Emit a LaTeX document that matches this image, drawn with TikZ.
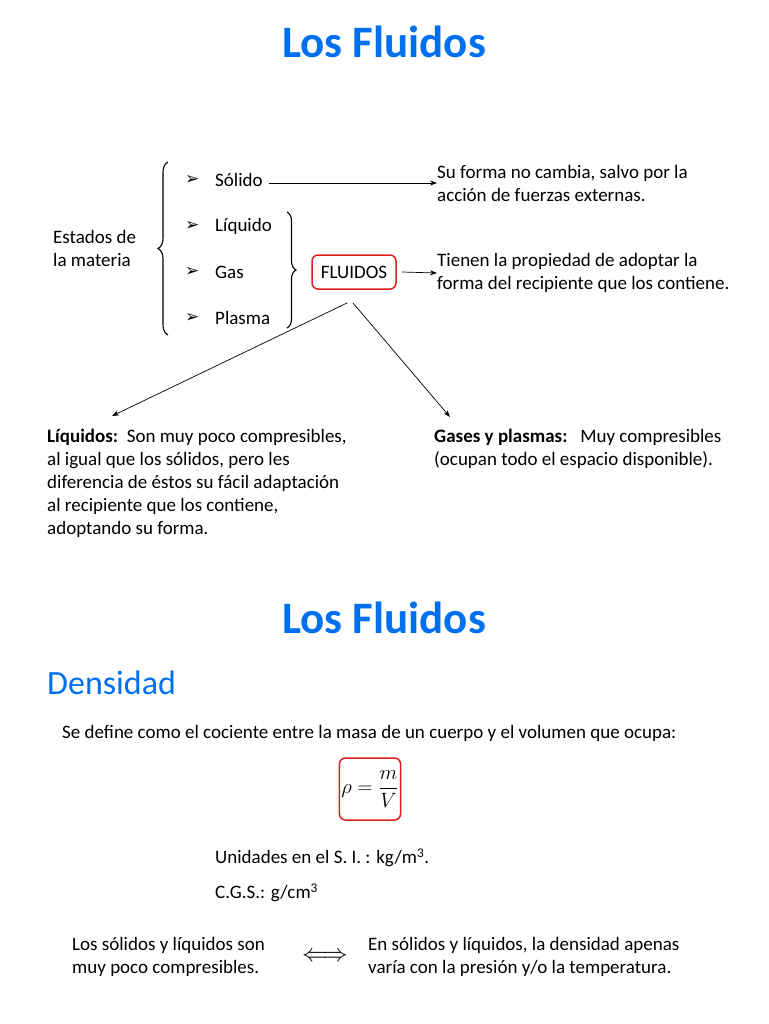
\documentclass[tikz,border=0pt]{standalone}
\usepackage{fontspec}
\setmainfont{Carlito}
\newfontfamily\dejavu{DejaVu Sans}
\usetikzlibrary{decorations.pathreplacing,arrows.meta}
\definecolor{tblue}{RGB}{0,112,240}
\definecolor{bred}{RGB}{220,30,30}
\begin{document}
\begin{tikzpicture}[x=1pt,y=-1pt,
  txt/.style={anchor=west,inner sep=0pt,font=\fontsize{19}{23}\selectfont,align=left},
  ttl/.style={font=\fontsize{45}{50}\selectfont\bfseries,text=tblue},
  redbox/.style={draw=bred,line width=1.5pt,rounded corners=6pt},
  arr/.style={-{Stealth[length=7pt,width=5pt]},line width=0.7pt},
  bul/.style={anchor=west,inner sep=0pt,font=\dejavu\fontsize{17}{17}\selectfont}]
\useasboundingbox (0,0) rectangle (768,1024);
\node[ttl] (t1) at (384,42) {Los Fluidos};
\node[txt] (est) at (53,248) {Estados de\\la materia};
\draw[line width=1.1pt,decorate,decoration={brace,amplitude=10pt}] (168,335) -- (168,162);
\draw[line width=1.1pt,decorate,decoration={brace,amplitude=9pt}] (287,212) -- (287,328);
\foreach \y/\t/\n in {180/Sólido/sol,226/Líquido/liq,272/Gas/gas,318/Plasma/pla}{
  \node[bul] (b\n) at (185,\y) {➢};
  \node[txt] (\n) at (215,\y) {\t};
}
\node[txt] (su) at (437,183) {Su forma no cambia, salvo por la\\acción de fuerzas externas.};
\coordinate (s1) at (269,183);
\draw[arr] (s1) -- (su.west);
\node[redbox,txt,anchor=center,inner sep=6pt,minimum width=84pt,minimum height=34pt] (flu) at (354,272) {FLUIDOS};
\node[txt] (tie) at (437,273) {Tienen la propiedad de adoptar la\\forma del recipiente que los contiene.};
\coordinate (f1) at (402,272);
\draw[arr] (f1) -- (tie.west);
\coordinate (fb1) at (347,303);
\coordinate (fb2) at (353,303);
\coordinate (liqT) at (112,416);
\coordinate (gasT) at (450,417);
\draw[arr] (fb1) -- (liqT);
\draw[arr] (fb2) -- (gasT);
\node[txt,anchor=north west] (lq) at (47,429) {\textbf{Líquidos:}\ \ Son muy poco compresibles,\\al igual que los sólidos, pero les\\diferencia de éstos su fácil adaptación\\al recipiente que los contiene,\\adoptando su forma.};
\node[txt,anchor=north west] (gp) at (434,429) {\textbf{Gases y plasmas:}\ \ \ Muy compresibles\\(ocupan todo el espacio disponible).};
\node[ttl] (t2) at (384,618) {Los Fluidos};
\node[anchor=west,inner sep=0pt,font=\fontsize{34}{38}\selectfont,text=tblue] (den) at (47,683) {Densidad};
\node[txt] (def) at (62,733) {Se define como el cociente entre la masa de un cuerpo y el volumen que ocupa:};
\node[redbox,minimum width=58pt,minimum height=62pt,inner sep=2pt,font=\fontsize{22}{26}\selectfont] (form) at (370,789) {$\displaystyle\rho=\frac{m}{V}$};
\node[txt] (uni) at (215,858) {Unidades en el S. I. : kg/m\textsuperscript{3}.};
\node[txt] (cgs) at (215,893) {C.G.S.: g/cm\textsuperscript{3}};
\node[txt] (sl) at (72,957) {Los sólidos y líquidos son\\muy poco compresibles.};
\node[inner sep=0pt,font=\fontsize{24}{24}\selectfont] (eq) at (325,957) {$\Longleftrightarrow$};
\node[txt] (en) at (368,957) {En sólidos y líquidos, la densidad apenas\\varía con la presión y/o la temperatura.};
\end{tikzpicture}
\end{document}
